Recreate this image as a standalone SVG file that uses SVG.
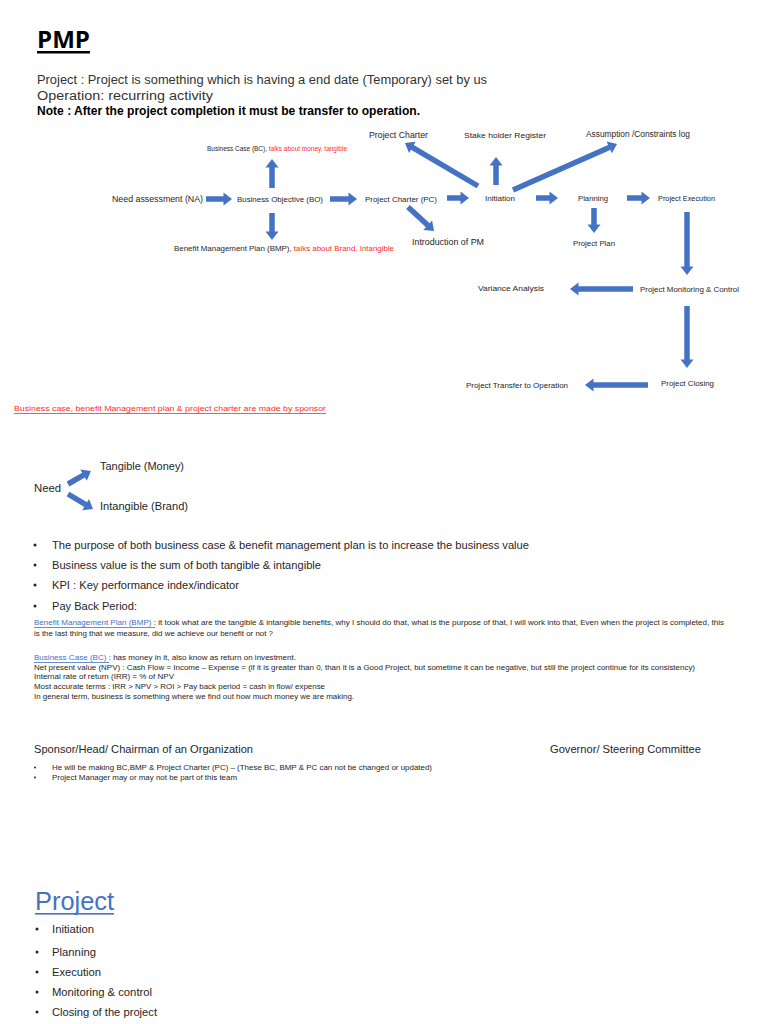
<svg xmlns="http://www.w3.org/2000/svg" width="768" height="1024" viewBox="0 0 768 1024">
<defs>
<style>
text{font-family:"Liberation Sans",Arial,sans-serif;fill:#262626}
.t{font-family:"Open Sans","Liberation Sans",sans-serif}
.red{fill:#ff2a2a}
.blue{fill:#4472c4}
.b{font-weight:bold}
.arr{stroke:#4472c4;stroke-width:5.5;fill:none;marker-end:url(#ah)}
.dot{fill:#262626}
</style>
<marker id="ah" markerUnits="userSpaceOnUse" markerWidth="9" markerHeight="13" refX="0.5" refY="6.5" orient="auto" overflow="visible">
<path d="M0,0 L8.5,6.5 L0,13 Z" fill="#4472c4"/>
</marker>
</defs>
<rect width="768" height="1024" fill="#fff"/>

<g id="header">
<text class="t b" x="37" y="48" font-size="24" style="fill:#000" textLength="53" lengthAdjust="spacingAndGlyphs">PMP</text>
<rect x="37" y="51" width="53" height="2.5" fill="#000"/>
<text x="37" y="84" font-size="12.5" style="fill:#333" textLength="450" lengthAdjust="spacingAndGlyphs">Project : Project is something which is having a end date (Temporary) set by us</text>
<text x="37" y="100" font-size="12.5" style="fill:#333" textLength="176" lengthAdjust="spacingAndGlyphs">Operation: recurring activity</text>
<text class="b" x="37" y="115" font-size="12.5" style="fill:#000" textLength="383" lengthAdjust="spacingAndGlyphs">Note : After the project completion it must be transfer to operation.</text>
</g>

<g id="connectors">
<line class="arr" x1="206" y1="199" x2="224" y2="199"/>
<line class="arr" x1="330" y1="199" x2="349" y2="199"/>
<line class="arr" x1="447" y1="198" x2="461" y2="198"/>
<line class="arr" x1="536" y1="198" x2="550" y2="198"/>
<line class="arr" x1="627" y1="198" x2="642" y2="198"/>
<line class="arr" x1="687" y1="212" x2="687" y2="267"/>
<line class="arr" x1="633" y1="289" x2="578" y2="289"/>
<line class="arr" x1="687" y1="306" x2="687" y2="360"/>
<line class="arr" x1="648" y1="385" x2="593" y2="385"/>
<line class="arr" x1="272" y1="188" x2="272" y2="167"/>
<line class="arr" x1="272" y1="213" x2="272" y2="232"/>
<line class="arr" x1="408" y1="207" x2="428.1" y2="225.6"/>
<line class="arr" x1="478" y1="186" x2="411.9" y2="147.1"/>
<line class="arr" x1="496" y1="185" x2="496" y2="165"/>
<line class="arr" x1="513" y1="190" x2="609.7" y2="147.2"/>
<line class="arr" x1="594" y1="208" x2="594" y2="225"/>
<line class="arr" x1="68" y1="484" x2="84" y2="474.9"/>
<line class="arr" x1="68" y1="494" x2="86.1" y2="504.9"/>
</g>

<g id="node-na"><text x="112" y="202" font-size="8.8" textLength="91" lengthAdjust="spacingAndGlyphs">Need assessment (NA)</text></g>
<g id="node-bo"><text x="237" y="202" font-size="8" textLength="86" lengthAdjust="spacingAndGlyphs">Business Objective (BO)</text></g>
<g id="node-pc"><text x="365" y="202" font-size="8" textLength="72" lengthAdjust="spacingAndGlyphs">Project Charter (PC)</text></g>
<g id="node-initiation"><text x="485" y="201" font-size="8" textLength="30" lengthAdjust="spacingAndGlyphs">Initiation</text></g>
<g id="node-planning"><text x="578" y="201" font-size="8" textLength="30" lengthAdjust="spacingAndGlyphs">Planning</text></g>
<g id="node-execution"><text x="658" y="201" font-size="7.3" textLength="57" lengthAdjust="spacingAndGlyphs">Project Execution</text></g>
<g id="node-monitoring"><text x="640" y="292" font-size="7.3" textLength="99" lengthAdjust="spacingAndGlyphs">Project Monitoring &amp; Control</text></g>
<g id="node-variance"><text x="478" y="291" font-size="7.8" textLength="66" lengthAdjust="spacingAndGlyphs">Variance Analysis</text></g>
<g id="node-closing"><text x="661" y="386" font-size="7.8" textLength="53" lengthAdjust="spacingAndGlyphs">Project Closing</text></g>
<g id="node-transfer"><text x="466" y="388" font-size="7.3" textLength="102" lengthAdjust="spacingAndGlyphs">Project Transfer to Operation</text></g>
<g id="node-bc"><text x="207" y="151" font-size="6.3" textLength="140" lengthAdjust="spacingAndGlyphs">Business Case (BC), <tspan class="red">talks about money, tangible</tspan></text></g>
<g id="node-bmp"><text x="174" y="251" font-size="7.6" textLength="220" lengthAdjust="spacingAndGlyphs">Benefit Management Plan (BMP), <tspan class="red">talks about Brand, Intangible</tspan></text></g>
<g id="node-intro-pm"><text x="412" y="245" font-size="9" textLength="72" lengthAdjust="spacingAndGlyphs">Introduction of PM</text></g>
<g id="node-charter"><text x="369" y="138" font-size="8.6" textLength="59" lengthAdjust="spacingAndGlyphs">Project Charter</text></g>
<g id="node-stakeholder"><text x="464" y="138" font-size="8" textLength="82" lengthAdjust="spacingAndGlyphs">Stake holder Register</text></g>
<g id="node-assumption"><text x="586" y="137" font-size="8.4" textLength="104" lengthAdjust="spacingAndGlyphs">Assumption /Constraints log</text></g>
<g id="node-plan"><text x="573" y="246" font-size="7.8" textLength="42" lengthAdjust="spacingAndGlyphs">Project Plan</text></g>

<g id="sponsor-note">
<text class="red" x="14" y="411" font-size="7.8" textLength="312" lengthAdjust="spacingAndGlyphs">Business case, benefit Management plan &amp; project charter are made by sponsor</text>
<rect x="14" y="413" width="312" height="0.8" fill="#ff2a2a"/>
</g>

<g id="node-need"><text x="34" y="492" font-size="11" textLength="27" lengthAdjust="spacingAndGlyphs">Need</text></g>
<g id="node-tangible"><text x="100" y="470" font-size="11" textLength="84" lengthAdjust="spacingAndGlyphs">Tangible (Money)</text></g>
<g id="node-intangible"><text x="100" y="510" font-size="11" textLength="88" lengthAdjust="spacingAndGlyphs">Intangible (Brand)</text></g>

<g id="bullets-value">
<circle class="dot" cx="35" cy="545" r="1.5"/>
<circle class="dot" cx="35" cy="565" r="1.5"/>
<circle class="dot" cx="35" cy="585" r="1.5"/>
<circle class="dot" cx="35" cy="606" r="1.5"/>
<text x="52" y="549" font-size="11" textLength="477" lengthAdjust="spacingAndGlyphs">The purpose of both business case &amp; benefit management plan is to increase the business value</text>
<text x="52" y="569" font-size="11" textLength="269" lengthAdjust="spacingAndGlyphs">Business value is the sum of both tangible &amp; intangible</text>
<text x="52" y="589" font-size="11" textLength="187" lengthAdjust="spacingAndGlyphs">KPI : Key performance index/indicator</text>
<text x="52" y="610" font-size="11" textLength="85" lengthAdjust="spacingAndGlyphs">Pay Back Period:</text>
</g>

<g id="bmp-para">
<text x="34" y="625" font-size="7" textLength="690" lengthAdjust="spacingAndGlyphs"><tspan class="blue">Benefit Management Plan (BMP) </tspan>: it took what are the tangible &amp; intangible benefits, why I should do that, what is the purpose of that, I will work into that,  Even when the project is completed, this</text>
<rect x="34" y="627" width="121" height="0.8" fill="#4472c4"/>
<text x="34" y="636" font-size="7" textLength="239" lengthAdjust="spacingAndGlyphs">is the last thing that we measure, did we achieve our benefit or not ?</text>
</g>

<g id="bc-para">
<text x="34" y="660" font-size="7" textLength="262" lengthAdjust="spacingAndGlyphs"><tspan class="blue">Business Case (BC) </tspan>: has money in it, also know as return on investment.</text>
<rect x="34" y="662" width="75" height="0.8" fill="#4472c4"/>
<text x="34" y="670" font-size="7" textLength="661" lengthAdjust="spacingAndGlyphs">Net present value (NPV) : Cash Flow = Income – Expense = (if it is greater than 0, than it is a Good Project, but sometime it can be negative, but still the project continue for its consistency)</text>
<text x="34" y="679" font-size="7" textLength="140" lengthAdjust="spacingAndGlyphs">Internal rate of return (IRR) = % of NPV</text>
<text x="34" y="689" font-size="7" textLength="291" lengthAdjust="spacingAndGlyphs">Most accurate terms : IRR &gt; NPV &gt; ROI &gt; Pay back period = cash in flow/ expense</text>
<text x="34" y="699" font-size="7" textLength="320" lengthAdjust="spacingAndGlyphs">In general term, business is something where we find out how much money we are making.</text>
</g>

<g id="sponsor">
<text x="34" y="753" font-size="11" textLength="219" lengthAdjust="spacingAndGlyphs">Sponsor/Head/ Chairman of an Organization</text>
<text x="550" y="753" font-size="11" textLength="151" lengthAdjust="spacingAndGlyphs">Governor/ Steering Committee</text>
<circle class="dot" cx="35" cy="767.5" r="1"/>
<circle class="dot" cx="35" cy="777.5" r="1"/>
<text x="52" y="770" font-size="7" textLength="380" lengthAdjust="spacingAndGlyphs">He will be making BC,BMP &amp; Project Charter (PC) – (These BC, BMP &amp; PC can not be changed or updated)</text>
<text x="52" y="780" font-size="7" textLength="185" lengthAdjust="spacingAndGlyphs">Project Manager may or may not be part of this team</text>
</g>

<g id="project-list">
<text class="blue" x="35" y="910" font-size="26" style="fill:#4472c4" textLength="79" lengthAdjust="spacingAndGlyphs">Project</text>
<rect x="35" y="913" width="79" height="1.6" fill="#4472c4"/>
<circle class="dot" cx="37" cy="929" r="1.5"/>
<circle class="dot" cx="37" cy="952" r="1.5"/>
<circle class="dot" cx="37" cy="972" r="1.5"/>
<circle class="dot" cx="37" cy="992" r="1.5"/>
<circle class="dot" cx="37" cy="1012" r="1.5"/>
<text x="52" y="933" font-size="11" textLength="42" lengthAdjust="spacingAndGlyphs">Initiation</text>
<text x="52" y="956" font-size="11" textLength="44" lengthAdjust="spacingAndGlyphs">Planning</text>
<text x="52" y="976" font-size="11" textLength="49" lengthAdjust="spacingAndGlyphs">Execution</text>
<text x="52" y="996" font-size="11" textLength="100" lengthAdjust="spacingAndGlyphs">Monitoring &amp; control</text>
<text x="52" y="1016" font-size="11" textLength="105" lengthAdjust="spacingAndGlyphs">Closing of the project</text>
</g>
</svg>
